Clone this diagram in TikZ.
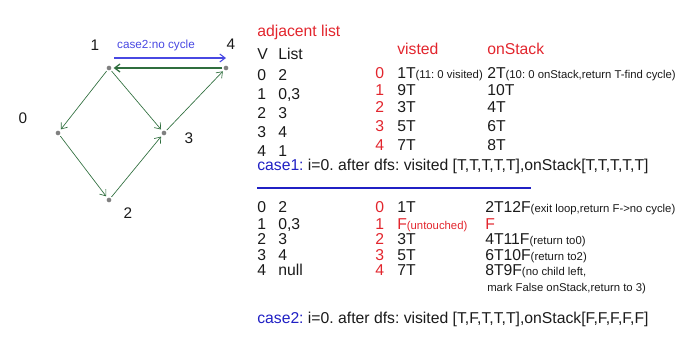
\documentclass[tikz,border=0pt]{standalone}
\usepackage{fontspec}
\setmainfont{Liberation Sans}
\usetikzlibrary{arrows.meta}
\definecolor{ListRed}{HTML}{E2252D}
\definecolor{CaseBlue}{HTML}{2020C4}
\definecolor{ArrowBlue}{HTML}{4848E2}
\definecolor{EdgeGreen}{HTML}{2F6E3E}
\definecolor{DotGray}{HTML}{808080}
\definecolor{TextInk}{HTML}{1A1A1A}
\frenchspacing
\tikzset{
  txt/.style={font=\fontsize{11.8}{13}\selectfont, text=TextInk, anchor=west, inner sep=0pt, text height=8.4pt, text depth=0pt},
  redtxt/.style={txt, text=ListRed},
  vlabel/.style={font=\fontsize{11.5}{13}\selectfont, text=TextInk, inner sep=0pt},
  vdot/.style={circle, fill=DotGray, inner sep=0pt, minimum size=3.5pt},
  edge/.style={-{Straight Barb[length=4pt,width=6pt]}, draw=EdgeGreen, line width=0.5pt, shorten >=1.5pt, shorten <=1pt},
  backedge/.style={edge, line width=1pt},
  casearrow/.style={-{Straight Barb[length=4pt,width=6pt]}, draw=ArrowBlue, line width=0.8pt},
  casenote/.style={font=\fontsize{8.8}{10}\selectfont, text=ArrowBlue, inner sep=0pt},
  divider/.style={draw=CaseBlue, line width=0.8pt}
}
\newcommand{\smallnote}[1]{{\fontsize{8.5}{10}\selectfont #1}}

\begin{document}
\begin{tikzpicture}[x=0.75pt, y=-0.75pt]
\useasboundingbox (0,0) rectangle (688,362);
% graph
\node[vdot] (v1) at (109,68) {};
\node[vdot] (v4) at (226,68) {};
\node[vdot] (v0) at (58,133) {};
\node[vdot] (v3) at (164,133) {};
\node[vdot] (v2) at (109,200) {};
\node[vlabel] (l1) at (95,45) {1};
\node[vlabel] (l4) at (231,44) {4};
\node[vlabel] (l0) at (23,118) {0};
\node[vlabel] (l3) at (189,138) {3};
\node[vlabel] (l2) at (128,213) {2};
\draw[edge] (v1) -- (v0);
\draw[edge] (v0) -- (v2);
\draw[edge] (v2) -- (v3);
\draw[edge] (v1) -- (v3);
\draw[edge] (v3) -- (v4);
\draw[backedge] (v4) -- (v1);
\coordinate (c2from) at (114,58);
\coordinate (c2to) at (226,58);
\draw[casearrow] (c2from) -- (c2to);
\node[casenote] (c2note) at (156,45) {case2:no cycle};
% adjacency list
\node[redtxt] (title) at (257,31) {adjacent list};
\node[txt] (hv) at (257,54) {V};
\node[txt] (hl) at (278,54) {List};
\node[txt] (a0) at (257,75) {0};  \node[txt] (b0) at (278,75) {2};
\node[txt] (a1) at (257,94) {1};  \node[txt] (b1) at (278,94) {0,3};
\node[txt] (a2) at (257,113) {2}; \node[txt] (b2) at (278,113) {3};
\node[txt] (a3) at (257,132) {3}; \node[txt] (b3) at (278,132) {4};
\node[txt] (a4) at (257,151) {4}; \node[txt] (b4) at (278,151) {1};
% case 1 trace
\node[redtxt] (hvis) at (397,49) {visted};
\node[redtxt] (hstk) at (487,49) {onStack};
\node[redtxt] (i0) at (375,73) {0};
\node[txt] (s0) at (397,73) {1T\smallnote{(11: 0 visited)}};
\node[txt] (k0) at (487,73) {2T\smallnote{(10: 0 onStack,return T-find cycle)}};
\node[redtxt] (i1) at (375,90) {1};
\node[txt] (s1) at (397,90) {9T};
\node[txt] (k1) at (487,90) {10T};
\node[redtxt] (i2) at (375,107) {2};
\node[txt] (s2) at (397,107) {3T};
\node[txt] (k2) at (487,107) {4T};
\node[redtxt] (i3) at (375,126) {3};
\node[txt] (s3) at (397,126) {5T};
\node[txt] (k3) at (487,126) {6T};
\node[redtxt] (i4) at (375,145) {4};
\node[txt] (s4) at (397,145) {7T};
\node[txt] (k4) at (487,145) {8T};
\node[txt] (case1) at (257,165) {\textcolor{CaseBlue}{case1:} i=0. after dfs: visited [T,T,T,T,T],onStack[T,T,T,T,T]};
\coordinate (divl) at (257,188);
\coordinate (divr) at (531,188);
\draw[divider] (divl) -- (divr);
% case 2 trace
\node[txt] (c0) at (257,207) {0};  \node[txt] (d0) at (278,207) {2};
\node[txt] (c1) at (257,224) {1};  \node[txt] (d1) at (278,224) {0,3};
\node[txt] (c2) at (257,239) {2};  \node[txt] (d2) at (278,239) {3};
\node[txt] (c3) at (257,255) {3};  \node[txt] (d3) at (278,255) {4};
\node[txt] (c4) at (257,270) {4};  \node[txt] (d4) at (278,270) {null};
\node[redtxt] (j0) at (375,207) {0};
\node[txt] (t0) at (397,207) {1T};
\node[txt] (m0) at (485,207) {2T12F\smallnote{(exit loop,return F->no cycle)}};
\node[redtxt] (j1) at (375,224) {1};
\node[redtxt] (t1) at (397,224) {F\smallnote{(untouched)}};
\node[redtxt] (m1) at (485,224) {F};
\node[redtxt] (j2) at (375,239) {2};
\node[txt] (t2) at (397,239) {3T};
\node[txt] (m2) at (485,239) {4T11F\smallnote{(return to0)}};
\node[redtxt] (j3) at (375,255) {3};
\node[txt] (t3) at (397,255) {5T};
\node[txt] (m3) at (485,255) {6T10F\smallnote{(return to2)}};
\node[redtxt] (j4) at (375,270) {4};
\node[txt] (t4) at (397,270) {7T};
\node[txt] (m4) at (485,270) {8T9F\smallnote{(no child left,}};
\node[txt, font=\fontsize{8.5}{10}\selectfont] (m4b) at (487,286) {mark False onStack,return to 3)};
\node[txt] (case2) at (257,318) {\textcolor{CaseBlue}{case2:} i=0. after dfs: visited [T,F,T,T,T],onStack[F,F,F,F,F]};
\end{tikzpicture}
\end{document}
